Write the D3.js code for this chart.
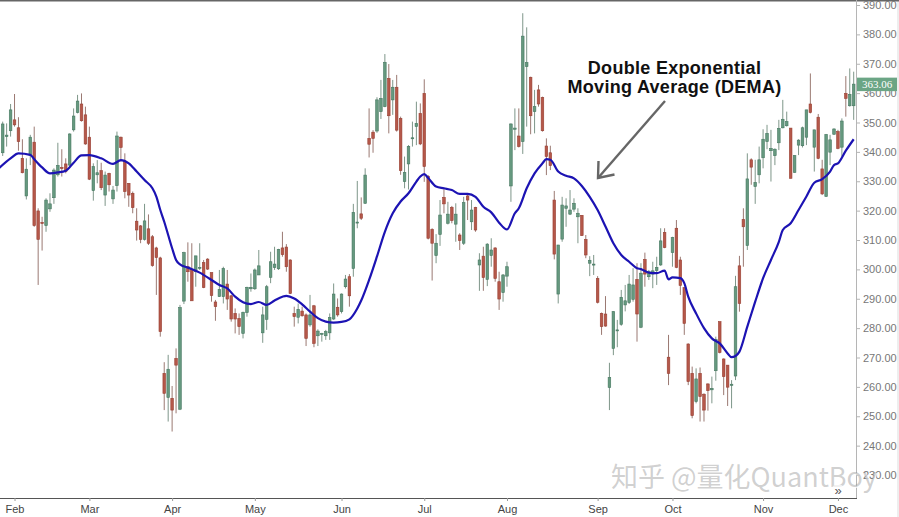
<!DOCTYPE html>
<html><head><meta charset="utf-8">
<script src="https://cdn.jsdelivr.net/npm/d3@7"></script>
<style>html,body{margin:0;padding:0;background:#fff;overflow:hidden}svg{display:block}</style>
</head><body><div id="c"></div>
<script>
const opens=[339.7,345.2,347.2,350.9,348.2,337.8,325.0,338.9,343.3,319.9,
316.0,314.9,320.6,324.4,332.2,334.7,335.9,335.5,347.5,353.4,
356.3,352.6,345.0,326.8,332.2,333.6,325.3,332.7,324.0,328.5,
345.0,336.7,329.3,325.9,316.4,314.8,310.2,313.8,311.1,307.3,
303.9,264.6,256.4,256.1,269.7,252.4,289.2,300.9,300.0,299.2,
300.4,302.3,303.5,298.9,288.9,290.7,290.7,295.0,291.0,285.0,
283.3,278.2,285.3,293.4,293.4,298.1,278.4,283.0,297.3,300.6,
300.2,307.3,307.6,303.2,285.0,283.7,285.8,284.5,281.1,287.6,
277.4,277.9,277.4,278.4,283.1,287.1,285.6,294.1,297.5,300.3,
315.8,318.9,322.5,344.6,346.7,347.1,353.7,355.4,365.0,357.7,
362.0,351.4,329.9,335.9,344.5,348.6,353.1,359.9,331.6,313.6,
304.7,311.9,324.5,315.7,321.1,315.4,311.7,308.9,325.0,316.2,
321.1,301.5,304.5,296.6,304.7,307.3,295.8,292.1,297.7,328.4,
347.7,345.4,343.5,369.0,365.4,353.7,361.1,358.5,342.0,339.7,
323.6,291.6,310.3,320.8,318.8,320.5,317.9,318.4,310.2,302.1,
301.6,296.9,285.0,284.8,259.8,273.1,279.2,281.3,287.9,288.7,
289.8,296.6,280.3,303.4,297.5,298.4,299.6,301.5,312.6,270.1,
305.7,314.0,303.2,293.8,274.6,264.6,255.0,264.6,257.5,261.0,
259.0,265.5,282.2,269.5,267.4,260.5,263.7,301.2,317.0,308.1,
337.3,328.2,332.2,338.0,343.5,340.4,338.7,343.1,348.2,348.9,
348.1,333.0,342.3,342.1,345.0,356.3,341.6,351.8,334.2,324.8,
339.9,346.0,346.9,341.6,359.9,355.7,355.7];
const highs=[350.3,349.7,356.3,359.7,351.8,344.3,337.8,345.8,348.6,320.8,
317.9,324.2,325.9,334.4,343.1,340.9,337.8,346.3,354.8,359.4,
359.9,355.4,348.6,336.1,337.2,336.3,333.3,332.9,328.4,346.9,
345.2,339.5,329.3,326.5,320.8,315.1,322.3,318.7,311.7,307.7,
304.3,268.4,270.9,260.3,273.1,287.9,306.0,309.2,308.9,304.6,
308.9,303.2,303.8,298.9,289.6,299.8,300.9,299.8,291.3,286.7,
285.0,285.6,294.1,298.6,300.3,306.6,287.3,294.7,306.0,307.7,
307.0,312.8,308.6,303.4,287.3,288.4,287.3,285.0,291.3,287.9,
279.6,278.4,279.4,285.0,295.2,290.1,291.8,298.1,298.4,322.3,
330.1,324.5,334.4,354.8,347.4,358.6,364.5,373.3,369.9,364.5,
366.2,352.0,338.4,342.3,350.3,357.1,356.5,364.7,332.1,314.0,
312.0,323.6,327.6,323.0,321.6,322.5,312.3,324.7,325.3,323.6,
321.3,305.5,307.7,308.9,310.6,307.5,299.2,298.4,302.6,349.7,
354.8,354.8,387.2,382.4,365.6,361.1,362.8,358.8,344.6,342.1,
326.7,308.3,324.7,324.2,327.0,324.2,320.8,318.5,311.7,304.5,
304.9,297.7,285.3,290.9,268.2,285.8,282.8,293.0,294.7,298.1,
300.4,302.1,302.1,305.7,299.8,302.6,304.3,314.0,314.0,277.7,
311.1,316.8,304.3,293.8,274.8,266.9,266.3,266.6,257.8,261.2,
263.5,277.1,282.2,269.7,267.4,262.3,297.8,304.6,320.8,339.5,
337.8,337.3,341.8,347.7,349.2,347.5,341.2,350.9,357.7,353.7,
348.1,338.9,344.3,348.6,354.3,366.7,347.5,352.9,337.3,346.1,
345.8,348.0,347.5,351.4,365.8,368.4,367.3];
const lows=[338.6,341.8,345.2,348.6,340.4,332.7,323.8,335.5,314.5,294.7,
306.4,312.8,319.6,322.3,331.6,331.6,332.7,335.0,346.9,353.1,
350.3,342.4,330.4,323.4,329.3,327.0,321.6,326.5,322.3,326.5,
336.7,324.2,321.3,319.1,309.8,308.9,309.8,308.3,300.9,291.3,
277.1,252.1,248.2,244.8,251.0,252.1,288.2,295.8,289.3,294.1,
299.8,293.6,299.8,289.0,282.5,290.7,288.4,286.2,282.2,278.2,
277.7,276.5,283.9,292.4,293.0,298.1,275.0,279.4,295.3,299.8,
299.8,304.3,299.2,291.6,280.5,281.6,283.9,273.9,280.5,273.5,
273.9,275.4,276.0,276.0,282.8,283.9,285.0,293.5,287.3,297.5,
314.0,316.8,322.3,338.1,339.7,346.5,351.2,355.2,346.3,352.6,
346.9,332.2,327.6,327.2,341.8,342.3,342.3,329.8,310.2,296.2,
302.1,308.0,319.1,315.3,315.7,309.4,306.6,308.3,316.8,313.4,
312.8,292.7,292.7,294.3,300.9,295.8,286.2,289.0,294.1,323.0,
340.6,341.5,339.3,348.6,346.0,346.3,355.4,346.9,332.1,333.8,
303.4,288.4,309.4,314.5,318.5,319.6,308.9,311.4,303.8,297.7,
298.1,288.4,277.7,280.5,252.1,270.8,273.5,280.8,285.7,288.2,
289.0,275.4,280.0,294.1,296.4,293.6,294.7,301.2,307.2,260.6,
300.9,300.4,291.3,277.7,260.6,249.3,254.4,248.2,248.2,251.9,
254.4,262.1,271.4,257.2,253.5,252.7,262.3,285.6,300.9,306.6,
328.8,322.3,329.3,334.4,340.9,329.9,335.5,340.6,348.0,348.6,
331.0,332.9,338.9,341.5,342.3,353.1,333.3,337.5,325.3,324.8,
335.5,345.8,340.9,338.4,352.0,355.4,350.9];
const closes=[349.5,345.7,354.3,349.2,343.5,332.9,334.1,345.0,314.9,310.2,
315.6,323.6,322.3,333.8,335.4,334.3,333.3,346.1,352.2,357.3,
350.6,342.7,330.7,335.0,332.9,327.8,332.1,328.8,327.0,345.4,
341.5,326.5,325.3,321.0,313.4,310.2,316.5,308.9,301.3,304.0,
278.8,257.8,266.0,252.1,267.4,287.0,305.7,299.2,289.3,304.6,
300.7,293.8,300.1,291.1,287.3,293.2,300.3,289.9,283.1,283.1,
280.5,285.4,293.9,293.9,299.8,301.2,284.5,294.1,302.6,301.8,
306.8,305.0,300.9,291.8,283.9,286.4,284.2,276.5,284.5,274.8,
279.0,278.2,278.8,283.6,291.6,284.5,291.6,296.7,291.0,319.4,
316.1,317.4,332.1,342.6,344.6,357.7,358.2,370.5,352.3,362.0,
347.4,333.6,333.0,341.9,344.8,349.7,342.7,335.0,310.6,308.9,
308.9,318.5,322.3,318.8,316.6,318.8,309.8,322.7,323.6,320.2,
313.4,303.2,297.2,308.6,306.6,296.9,289.9,298.1,300.9,349.5,
348.1,341.8,379.4,370.4,352.3,355.4,356.3,347.2,338.4,335.3,
305.2,308.3,321.9,321.6,320.2,322.5,319.1,311.5,304.9,303.1,
301.8,288.8,280.5,280.7,263.2,285.6,279.4,290.5,289.3,295.0,
294.7,284.8,298.7,298.4,299.2,299.5,300.7,309.7,307.4,264.6,
310.8,300.7,294.5,281.6,261.8,250.2,262.7,256.7,252.1,258.7,
259.5,276.2,271.7,263.5,259.9,260.9,294.1,288.4,314.5,330.8,
334.8,329.6,337.3,344.3,346.3,341.2,340.9,348.0,351.1,350.3,
331.0,338.7,344.0,348.2,354.3,353.4,347.5,337.8,325.7,345.9,
344.1,347.8,341.2,350.5,358.2,359.6,363.06];
const demaIndex=[-1,2,4,7,8,10,12,14,16,18,20,22,25,28,30,32,34,36,38,39,40,41,42,43,44,45,47,50,53,55,57,59,61,63,65,67,69,71,72,74,76,78,80,82,84,86,88,90,91,93,95,97,99,101,103,105,106,107,108,110,112,114,116,118,120,122,124,126,128,130,131,133,135,137,138,139,141,143,145,147,149,151,153,155,157,159,161,162,164,166,168,169,170,172,173,174,176,178,180,182,184,185,186,187,189,191,193,195,197,198,200,202,204,206,208,210,211,212,214,216];
const demaValues=[334.4,337.8,339.5,339.0,337.5,334.7,332.7,333.0,333.6,336.3,338.8,338.9,337.8,335.9,337.2,336.1,333.3,330.4,327.6,324.8,320.2,316.2,311.7,307.2,303.2,301.7,300.6,298.9,296.4,294.7,293.5,290.7,288.8,288.2,288.9,287.9,289.4,290.7,291.0,290.1,288.1,285.6,283.4,282.2,281.9,282.1,283.0,286.7,289.4,296.4,304.4,312.8,319.1,323.1,325.9,329.9,331.6,332.4,331.1,328.2,327.6,327.0,325.7,325.7,324.7,321.3,319.4,315.9,313.6,319.1,320.8,327.6,332.7,336.1,337.5,337.3,333.3,331.9,331.0,328.4,324.7,320.2,314.6,308.9,304.9,302.6,300.4,300.1,298.9,298.7,299.6,296.6,297.3,297.0,295.3,290.7,285.0,280.0,276.5,274.8,271.4,270.1,270.5,272.0,280.5,289.0,297.0,303.2,309.4,313.4,315.7,320.2,324.8,329.5,330.7,333.3,335.5,336.1,340.4,344.3];
const priceTicks=[230,240,250,260,270,280,290,300,310,320,330,340,350,360,370,380,390];
const monthLabels=["Feb","Mar","Apr","May","Jun","Jul","Aug","Sep","Oct","Nov","Dec"];
const monthIndex=[3,22,43,64,86,107,128,151,170,193,212];
const lastPrice=363.06;
const annotationLines=["Double Exponential","Moving Average (DEMA)"];
const watermark="知乎 @量化QuantBoy";

const W=899,H=517;
const svg=d3.select("#c").append("svg").attr("width",W).attr("height",H);
const x=d3.scaleLinear().domain([0,216]).range([2.7,853.7]);
const y=d3.scaleLinear().domain([230,390]).range([475,5]);
const font="'Liberation Sans',Arial,sans-serif";

svg.append("rect").attr("x",897).attr("y",0).attr("width",2).attr("height",H).attr("fill","#eeeeee");
svg.append("rect").attr("x",0).attr("y",0).attr("width",W).attr("height",1.5).attr("fill","#666");

const candles=svg.append("g").selectAll("g").data(d3.range(opens.length)).join("g");
const isUp=i=>closes[i]>=opens[i];
candles.append("line")
  .attr("x1",i=>x(i)).attr("x2",i=>x(i))
  .attr("y1",i=>y(highs[i])).attr("y2",i=>y(lows[i]))
  .attr("stroke",i=>isUp(i)?"#6f8a7c":"#8f6a62").attr("stroke-width",.9);
candles.append("rect")
  .attr("x",i=>x(i)-1.3).attr("width",2.6)
  .attr("y",i=>y(Math.max(opens[i],closes[i])))
  .attr("height",i=>Math.max(1,Math.abs(y(opens[i])-y(closes[i]))))
  .attr("fill",i=>isUp(i)?"#66997f":"#b5584a")
  .attr("stroke",i=>isUp(i)?"#457760":"#983f32").attr("stroke-width",.6);

const line=d3.line().x((d,i)=>x(demaIndex[i])).y(d=>y(d)).curve(d3.curveMonotoneX);
svg.append("path").datum(demaValues).attr("d",line).attr("fill","none")
  .attr("stroke","#1c13b3").attr("stroke-width",2.2);

// axes
const yAxis=d3.axisRight(y).tickValues(priceTicks).tickFormat(d=>d.toFixed(2)).tickSize(4).tickPadding(3);
const ya=svg.append("g").attr("transform","translate(856,0)").call(yAxis);
ya.select(".domain").attr("stroke","#b5b5b5").attr("d","M0.5,0V498");
ya.selectAll("line").attr("stroke","#b5b5b5");
ya.selectAll("text").attr("fill","#777").attr("font-family",font).attr("font-size",11);

const xAxis=d3.axisBottom(x).tickValues(monthIndex).tickFormat((d,i)=>monthLabels[i]).tickSize(3).tickPadding(4);
const xa=svg.append("g").attr("transform","translate(0,498)").call(xAxis);
xa.select(".domain").attr("stroke","#555").attr("d","M0,0.5H857");
xa.selectAll("line").attr("stroke","#999");
xa.selectAll("text").attr("fill","#444").attr("font-family",font).attr("font-size",11);

// last price tag
const tag=svg.append("g").attr("transform",`translate(857,${y(lastPrice)})`);
tag.append("rect").attr("x",0).attr("y",-6.5).attr("width",40).attr("height",13.5).attr("fill","#6ba585");
tag.append("text").attr("x",20).attr("y",4).attr("text-anchor","middle").attr("fill","#fff")
  .attr("font-family","'Liberation Serif',serif").attr("font-size",11).text(lastPrice.toFixed(2));

// annotation
svg.append("g").selectAll("text").data(annotationLines).join("text")
  .attr("x",674.5).attr("y",(d,i)=>74+i*19).attr("text-anchor","middle")
  .attr("font-family",font).attr("font-weight","bold").attr("font-size",18)
  .attr("letter-spacing",0.3).attr("fill","#111").text(d=>d);
const ag=svg.append("g").attr("fill","none").attr("stroke","#666").attr("stroke-width",2.4);
ag.append("line").attr("x1",665).attr("y1",101).attr("x2",598).attr("y2",178);
ag.append("path").attr("d","M598.5,161L598,178L614.5,174.5");

// watermark
svg.append("text").attr("x",611).attr("y",487).attr("font-family","'Noto Sans CJK SC',sans-serif")
  .attr("font-size",27).attr("fill","#fff").attr("fill-opacity",.8).attr("transform","translate(1,1)").text(watermark);
svg.append("text").attr("x",611).attr("y",487).attr("font-family","'Noto Sans CJK SC',sans-serif")
  .attr("font-size",27).attr("fill","#8f8f8f").attr("fill-opacity",.42).text(watermark);
svg.append("circle").attr("cx",838).attr("cy",491).attr("r",7).attr("fill","#fff").attr("fill-opacity",.7);
svg.append("text").attr("x",838).attr("y",495).attr("text-anchor","middle").attr("font-family",font)
  .attr("font-size",13).attr("fill","#555").text("»");
</script></body></html>
